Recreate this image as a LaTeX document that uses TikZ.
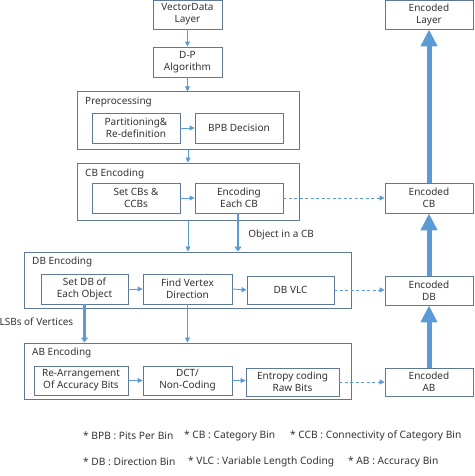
\documentclass[tikz,border=0pt]{standalone}
\usepackage{fontspec}
\setmainfont{Noto Sans}
\usetikzlibrary{arrows.meta,positioning}
\definecolor{boxc}{HTML}{5F7896}
\definecolor{arrc}{HTML}{5B9BD5}
\definecolor{txtc}{HTML}{333333}
\tikzset{
  box/.style={draw=boxc, line width=0.9pt, fill=white, align=center, inner sep=0pt,
    font=\fontsize{10}{12}\selectfont, text=txtc},
  outer/.style={draw=boxc, line width=1pt, inner sep=0pt},
  lab/.style={font=\fontsize{10}{12}\selectfont, text=txtc, inner sep=0pt},
  thinarr/.style={draw=arrc, line width=0.9pt, -{Triangle[length=5pt,width=5pt]}},
  medarr/.style={draw=arrc, line width=2.5pt, -{Triangle[length=5pt,width=7pt]}},
  bigarr/.style={draw=arrc, line width=5pt, -{Triangle[length=17pt,width=16pt]}},
  dasharr/.style={draw=arrc, line width=0.8pt, dashed, dash pattern=on 3pt off 2.5pt, -{Triangle[length=5pt,width=5pt]}},
  note/.style={font=\fontsize{10.2}{12}\selectfont, text=txtc, anchor=west, inner sep=0pt}
}
\begin{document}
\begin{tikzpicture}[x=1pt,y=-1pt]
\useasboundingbox (0,0) rectangle (474,476);
% outer containers
\node[outer, minimum width=222pt, minimum height=57pt] (prep) at (188,120.5) {};
\node[outer, minimum width=222pt, minimum height=57pt] (cb) at (188,191.5) {};
\node[outer, minimum width=327pt, minimum height=56pt] (db) at (187.5,280) {};
\node[outer, minimum width=327pt, minimum height=56pt] (ab) at (187.5,371) {};
\node[lab, anchor=west] (preplab) at (85,102) {Preprocessing};
\node[lab, anchor=west] (cblab) at (85,174) {CB Encoding};
\node[lab, anchor=west] (dblab) at (32,262) {DB Encoding};
\node[lab, anchor=west] (ablab) at (32,353) {AB Encoding};
% boxes
\node[box, minimum width=69pt, minimum height=29pt] (vdl) at (187.5,14.5) {VectorData\\Layer};
\node[box, minimum width=69pt, minimum height=30pt] (dp) at (187.5,62) {D-P\\Algorithm};
\node[box, minimum width=88pt, minimum height=29pt] (enclayer) at (429,14.5) {Encoded\\Layer};
\node[box, minimum width=88pt, minimum height=30pt] (part) at (136,128) {Partitioning\&\\Re-definition};
\node[box, minimum width=88pt, minimum height=30pt] (bpb) at (239,128) {BPB Decision};
\node[box, minimum width=88pt, minimum height=30pt] (setcb) at (136,198) {Set CBs \&\\CCBs};
\node[box, minimum width=88pt, minimum height=30pt] (enceach) at (239,198) {Encoding\\Each CB};
\node[box, minimum width=88pt, minimum height=30pt] (enccb) at (429,198) {Encoded\\CB};
\node[box, minimum width=87pt, minimum height=30pt] (setdb) at (84.5,289) {Set DB of\\Each Object};
\node[box, minimum width=89pt, minimum height=30pt] (findv) at (187.5,289) {Find Vertex\\Direction};
\node[box, minimum width=87pt, minimum height=28pt] (dbvlc) at (290.5,290) {DB VLC};
\node[box, minimum width=88pt, minimum height=29pt] (encdb) at (429,290.5) {Encoded\\DB};
\node[box, minimum width=94pt, minimum height=29pt] (rearr) at (81,380.5) {Re-Arrangement\\Of Accuracy Bits};
\node[box, minimum width=89pt, minimum height=29pt] (dct) at (187.5,380.5) {DCT/\\Non-Coding};
\node[box, minimum width=93pt, minimum height=28pt] (entropy) at (292.5,382) {Entropy coding\\Raw Bits};
\node[box, minimum width=88pt, minimum height=28pt] (encab) at (429,382) {Encoded\\AB};
% flow arrows
\draw[thinarr] (vdl.south) -- (dp.north);
\draw[thinarr] (dp.south) -- (dp.south |- prep.north);
\draw[thinarr] (part.east) -- (bpb.west);
\draw[thinarr] (prep.south) -- (prep.south |- cb.north);
\draw[thinarr] (setcb.east) -- (enceach.west);
\draw[dasharr] (enceach.east) -- (enccb.west);
\draw[thinarr] (cb.south) -- (cb.south |- db.north);
\draw[medarr] ([xshift=-1pt]enceach.south) -- ([xshift=-1pt]enceach.south |- db.north)
  node[lab, midway, anchor=west, xshift=9pt, yshift=-2pt] (objlab) {Object in a CB};
\draw[thinarr] (setdb.east) -- (findv.west);
\draw[thinarr] (findv.east) -- (dbvlc.west);
\draw[dasharr] (dbvlc.east) -- (dbvlc.east -| encdb.west);
\draw[medarr] (setdb.south) -- (setdb.south |- ab.north)
  node[lab, pos=0.45, anchor=east, xshift=-10pt] (lsblab) {LSBs of Vertices};
\draw[thinarr] (findv.south) -- (findv.south |- ab.north);
\draw[thinarr] (rearr.east) -- (dct.west);
\draw[thinarr] (dct.east) -- (dct.east -| entropy.west);
\draw[dasharr] (entropy.east) -- (encab.west);
\draw[bigarr] (encab.north) -- (encdb.south);
\draw[bigarr] (encdb.north) -- (enccb.south);
\draw[bigarr] (enccb.north) -- (enclayer.south);
% notes
\node[note] (n1a) at (83,436) {* BPB : Pits Per Bin};
\node[note] (n1b) at (184,436) {* CB : Category Bin};
\node[note] (n1c) at (290,436) {* CCB : Connectivity of Category Bin};
\node[note] (n2a) at (83,462) {* DB : Direction Bin};
\node[note] (n2b) at (188,462) {* VLC : Variable Length Coding};
\node[note] (n2c) at (348,462) {* AB : Accuracy Bin};
\end{tikzpicture}
\end{document}
